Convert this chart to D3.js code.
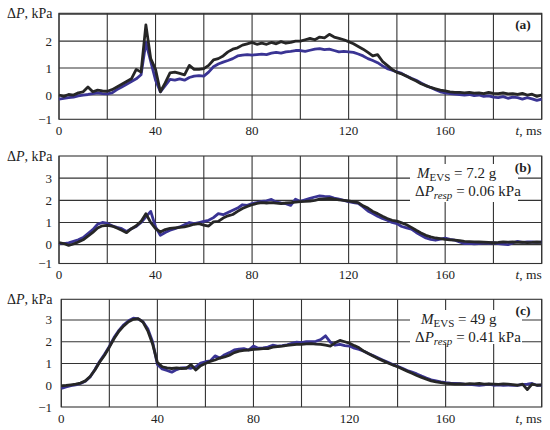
<!DOCTYPE html>
<html><head><meta charset="utf-8">
<script src="https://cdn.jsdelivr.net/npm/d3@7"></script>
<style>body{margin:0;background:#fff}svg{display:block}</style>
</head><body><svg id="c" width="550" height="430"></svg>
<script>
const time = d3.range(0, 201, 2);
const aBlack = [0.0,-0.05,0.02,0.0,0.08,0.12,0.3,0.12,0.18,0.15,0.14,0.2,0.3,0.4,0.5,0.6,0.95,0.85,2.6,1.35,0.95,0.12,0.45,0.82,0.85,0.8,0.75,1.1,0.95,0.95,0.98,1.1,1.3,1.35,1.45,1.6,1.7,1.75,1.85,1.9,1.95,1.88,1.92,1.88,1.95,1.9,1.98,1.92,1.95,2.0,2.0,2.05,2.1,2.05,2.15,2.12,2.25,2.15,2.1,2.05,1.98,1.9,1.8,1.7,1.58,1.45,1.5,1.25,1.1,0.95,0.84,0.78,0.7,0.6,0.52,0.42,0.35,0.28,0.23,0.18,0.15,0.12,0.1,0.1,0.08,0.1,0.07,0.08,0.05,0.1,0.06,0.05,0.08,0.04,0.05,0.02,0.06,0.0,0.03,-0.05,0.0];
const aBlue = [-0.15,-0.12,-0.1,-0.08,-0.03,0.0,0.02,0.05,0.08,0.05,0.04,0.08,0.2,0.3,0.4,0.5,0.6,0.75,1.95,1.25,0.55,0.12,0.35,0.58,0.55,0.6,0.55,0.65,0.7,0.72,0.7,0.85,1.05,1.15,1.22,1.28,1.35,1.45,1.48,1.5,1.48,1.5,1.52,1.5,1.55,1.58,1.55,1.6,1.62,1.65,1.65,1.62,1.66,1.7,1.72,1.68,1.7,1.65,1.6,1.62,1.6,1.58,1.52,1.45,1.35,1.28,1.2,1.08,0.98,0.92,0.86,0.8,0.7,0.62,0.55,0.45,0.35,0.28,0.2,0.12,0.08,0.05,0.03,0.02,0.0,0.02,-0.02,0.0,-0.05,-0.03,-0.08,-0.1,-0.06,-0.12,-0.08,-0.1,-0.15,-0.1,-0.14,-0.2,-0.15];
const bBlack = [0.09,0.05,-0.03,0.03,0.12,0.22,0.38,0.55,0.75,0.85,0.87,0.84,0.75,0.65,0.54,0.72,0.85,1.05,1.4,1.0,0.72,0.57,0.68,0.73,0.76,0.78,0.8,0.86,0.92,0.95,0.88,0.84,1.03,1.05,1.2,1.3,1.36,1.5,1.63,1.72,1.8,1.86,1.9,1.88,1.9,1.87,1.85,1.88,1.9,1.92,1.94,1.95,1.97,2.0,2.05,2.07,2.09,2.05,2.02,2.0,1.97,1.93,1.9,1.75,1.65,1.5,1.4,1.28,1.18,1.1,1.06,0.98,0.9,0.78,0.65,0.53,0.42,0.35,0.3,0.27,0.24,0.22,0.2,0.18,0.15,0.14,0.13,0.12,0.11,0.1,0.09,0.1,0.12,0.11,0.12,0.1,0.11,0.09,0.1,0.12,0.1];
const bBlue = [0.05,0.05,0.08,0.15,0.22,0.32,0.5,0.68,0.92,1.0,0.96,0.85,0.78,0.72,0.6,0.72,0.82,1.0,1.25,1.5,0.8,0.42,0.55,0.65,0.72,0.8,0.9,1.0,0.95,1.0,1.05,1.1,1.22,1.4,1.35,1.45,1.55,1.65,1.8,1.77,1.85,1.9,1.95,1.98,2.04,1.92,1.88,1.85,1.77,2.05,1.95,2.02,2.09,2.15,2.2,2.18,2.17,2.1,2.05,2.0,1.94,1.9,1.86,1.7,1.52,1.4,1.28,1.18,1.1,1.0,0.95,0.82,0.76,0.7,0.55,0.42,0.3,0.24,0.2,0.25,0.3,0.24,0.2,0.12,0.05,0.06,0.04,0.05,0.08,0.06,0.09,0.05,0.02,0.0,0.08,0.15,0.1,0.12,0.12,0.1,0.12];
const cBlack = [-0.03,-0.01,0.02,0.05,0.1,0.2,0.4,0.7,1.07,1.38,1.75,2.15,2.48,2.73,2.92,3.03,3.06,2.9,2.5,1.9,1.05,0.85,0.8,0.77,0.8,0.77,0.78,0.95,0.7,0.9,1.0,1.1,1.16,1.25,1.3,1.38,1.5,1.57,1.6,1.62,1.65,1.66,1.68,1.68,1.75,1.78,1.8,1.83,1.86,1.88,1.88,1.9,1.91,1.89,1.88,1.84,1.8,1.95,2.06,2.0,1.93,1.82,1.72,1.56,1.45,1.33,1.22,1.12,1.02,0.93,0.85,0.75,0.65,0.55,0.45,0.36,0.28,0.2,0.15,0.12,0.09,0.07,0.05,0.06,0.05,0.07,0.06,0.08,0.05,0.06,0.05,0.04,0.06,0.05,0.03,0.0,0.05,-0.2,0.05,0.0,0.02];
const cBlue = [-0.15,-0.08,-0.02,0.02,0.08,0.18,0.38,0.72,1.1,1.42,1.78,2.2,2.52,2.78,2.96,3.08,3.05,2.92,2.6,2.0,0.95,0.75,0.68,0.6,0.72,0.8,0.81,0.78,0.85,1.02,1.08,1.12,1.35,1.25,1.4,1.5,1.62,1.66,1.68,1.62,1.8,1.7,1.72,1.75,1.84,1.8,1.82,1.86,1.92,1.98,1.96,2.0,2.0,2.02,2.1,2.27,1.98,1.84,1.88,1.82,1.8,1.7,1.65,1.56,1.45,1.35,1.25,1.15,1.05,0.95,0.87,0.78,0.68,0.6,0.52,0.42,0.33,0.25,0.2,0.15,0.12,0.1,0.09,0.07,0.05,0.04,0.02,0.0,0.02,0.05,0.0,0.02,0.0,0.01,-0.01,0.0,0.03,0.05,0.08,0.0,0.0];
const xGrid = d3.range(0, 201, 20);
const xTickLabels = [0, 40, 80, 120, 160];
const yTickValues = [-1, 0, 1, 2, 3];
const panelNames = ["(a)", "(b)", "(c)"];
const massLabels = [null, "7.2 g", "49 g"];
const respLabels = [null, "0.06 kPa", "0.41 kPa"];

const panels = [
  {blue: aBlue, black: aBlack, x0: 59, x1: 541.7, yDom: [-0.9, 3.03], yR: [119.3, 13.3], yLabels: [-1,0,1,2], box: null},
  {blue: bBlue, black: bBlack, x0: 59, x1: 541.7, yDom: [-0.85, 4.0], yR: [263.5, 156], yLabels: [-1,0,1,2,3], box: [410, 164, 108, 38]},
  {blue: cBlue, black: cBlack, x0: 61.3, x1: 541.7, yDom: [-1, 3.95], yR: [407, 299.3], yLabels: [-1,0,1,2,3], box: [410, 310, 112, 34]}
];

const svg = d3.select("#c");
const serif = "'Liberation Serif', 'Times New Roman', serif";
const gridCol = "#333";

panels.forEach((p, i) => {
  const x = d3.scaleLinear().domain([0, 200]).range([p.x0, p.x1]);
  const y = d3.scaleLinear().domain(p.yDom).range(p.yR);
  const g = svg.append("g");
  const top = p.yR[1], bot = p.yR[0];
  g.selectAll(".vg").data(xGrid).join("line")
    .attr("x1", d => x(d)).attr("x2", d => x(d)).attr("y1", top).attr("y2", bot)
    .attr("stroke", gridCol).attr("stroke-width", 1.1);
  g.selectAll(".hg").data(yTickValues.filter(v => v > p.yDom[0] && v < p.yDom[1])).join("line")
    .attr("x1", p.x0).attr("x2", p.x1).attr("y1", d => y(d)).attr("y2", d => y(d))
    .attr("stroke", gridCol).attr("stroke-width", 1.1);
  g.append("rect").attr("x", p.x0).attr("y", top).attr("width", p.x1 - p.x0).attr("height", bot - top)
    .attr("fill", "none").attr("stroke", gridCol).attr("stroke-width", 1.1);
  if (p.box) {
    g.append("rect").attr("x", p.box[0]).attr("y", p.box[1]).attr("width", p.box[2]).attr("height", p.box[3]).attr("fill", "#fff");
  }
  const line = d3.line().x((d, k) => x(time[k])).y(d => y(d));
  g.append("path").datum(p.blue).attr("d", line).attr("fill", "none")
    .attr("stroke", "#3a3494").attr("stroke-width", 2.8).attr("stroke-linejoin", "round");
  g.append("path").datum(p.black).attr("d", line).attr("fill", "none")
    .attr("stroke", "#262626").attr("stroke-width", 2.8).attr("stroke-linejoin", "round");
  g.selectAll(".yl").data(p.yLabels).join("text")
    .attr("x", 52).attr("y", d => y(Math.max(d, p.yDom[0])) + 4.5)
    .attr("text-anchor", "end").attr("font-family", serif).attr("font-size", 13).attr("fill", "#222")
    .text(d => d < 0 ? "\u2212" + Math.abs(d) : d);
  const yt = g.append("text").attr("x", 7).attr("y", top + 5).attr("font-family", serif).attr("font-size", 14).attr("fill", "#222");
  yt.append("tspan").text("\u0394");
  yt.append("tspan").attr("font-style", "italic").text("P");
  yt.append("tspan").text(", kPa");
  g.selectAll(".xl").data(xTickLabels).join("text")
    .attr("x", d => x(d)).attr("y", bot + 15.5).attr("text-anchor", "middle")
    .attr("font-family", serif).attr("font-size", 13).attr("fill", "#222").text(d => d);
  const xt = g.append("text").attr("x", p.x1).attr("y", bot + 15.5).attr("text-anchor", "end")
    .attr("font-family", serif).attr("font-size", 13.5).attr("fill", "#222");
  xt.append("tspan").attr("font-style", "italic").text("t");
  xt.append("tspan").text(", ms");
  g.append("text").attr("x", 523).attr("y", top + 16).attr("text-anchor", "middle")
    .attr("font-family", serif).attr("font-weight", "bold").attr("font-size", 13.5).attr("fill", "#222").text(panelNames[i]);
  if (p.box) {
    const t1 = g.append("text").attr("x", p.box[0] + 7 + (i === 2 ? 4 : 0)).attr("y", p.box[1] + 14)
      .attr("font-family", serif).attr("font-size", 15).attr("fill", "#222");
    t1.append("tspan").attr("font-style", "italic").text("M");
    t1.append("tspan").attr("font-size", 11).attr("dy", 3).text("EVS");
    t1.append("tspan").attr("dy", -3).text(" = " + massLabels[i]);
    const t2 = g.append("text").attr("x", p.box[0] + 5).attr("y", p.box[1] + 32)
      .attr("font-family", serif).attr("font-size", 15).attr("fill", "#222");
    t2.append("tspan").text("\u0394");
    t2.append("tspan").attr("font-style", "italic").text("P");
    t2.append("tspan").attr("font-style", "italic").attr("font-size", 11).attr("dy", 3).text("resp");
    t2.append("tspan").attr("dy", -3).text(" = " + respLabels[i]);
  }
});
</script></body></html>
